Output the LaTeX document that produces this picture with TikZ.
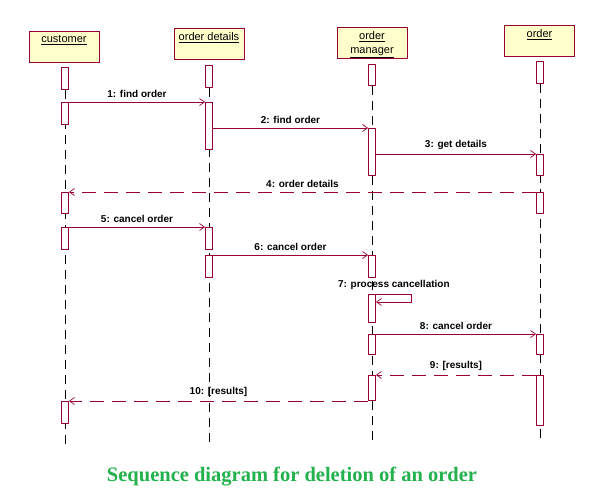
\documentclass[tikz,border=0pt]{standalone}
\usepackage{fontspec}
\setmainfont{Liberation Sans}
\newfontfamily\capfont{Liberation Serif}
\usetikzlibrary{arrows.meta}
\pgfdeclarelayer{bg}
\pgfsetlayers{bg,main}
\definecolor{umlred}{RGB}{153,0,51}
\definecolor{headfill}{RGB}{255,255,204}
\definecolor{capgreen}{RGB}{34,177,76}
\begin{document}
\begin{tikzpicture}[x=1pt,y=-1pt,
 head/.style={draw=umlred, fill=headfill, line width=0.8pt, minimum width=70pt, minimum height=31pt, inner sep=0pt},
 headtxt/.style={font=\fontsize{11}{13.5}\selectfont, align=center, inner sep=0pt, below=5pt},
 act/.style={draw=umlred, fill=white, line width=0.8pt, minimum width=7pt, inner sep=0pt, anchor=north},
 life/.style={draw=black, line width=0.7pt, dash pattern=on 9pt off 6pt},
 msg/.style={draw=umlred, line width=0.7pt, -{Straight Barb[length=5pt,width=7pt]}},
 ret/.style={msg, dash pattern=on 14pt off 8pt},
 lbl/.style={font=\fontsize{10}{12}\selectfont\bfseries, inner sep=0pt, above=4pt}
]
\useasboundingbox (0,0) rectangle (607,500);
% headers
\node[head] (hc) at (64,46.5) {};
\node[headtxt] (tc) at (hc.north) {\underline{customer}};
\node[head] (hod) at (209,43.5) {};
\node[headtxt] (tod) at (hod.north) {\underline{order details}};
\node[head] (hom) at (372,42.5) {};
\node[headtxt] (tom) at (hom.north) {\underline{order}\\\underline{manager}};
\node[head] (ho) at (539.5,40.5) {};
\node[headtxt] (to) at (ho.north) {\underline{order}};
% activations
\node[act, minimum height=22pt] (c1) at (65,67) {};
\node[act, minimum height=22pt] (c2) at (65,102) {};
\node[act, minimum height=21pt] (c3) at (65,192) {};
\node[act, minimum height=22pt] (c4) at (65,227) {};
\node[act, minimum height=22pt] (c5) at (65,401) {};
\node[act, minimum height=22pt] (od1) at (209,65) {};
\node[act, minimum height=47pt] (od2) at (209,102) {};
\node[act, minimum height=22pt] (od3) at (209,227) {};
\node[act, minimum height=22pt] (od4) at (209,255) {};
\node[act, minimum height=21pt] (om1) at (372,64) {};
\node[act, minimum height=47pt] (om2) at (372,128) {};
\node[act, minimum height=22pt] (om3) at (372,255) {};
\node[act, minimum height=28pt] (om4) at (372,294) {};
\node[act, minimum height=20pt] (om5) at (372,334) {};
\node[act, minimum height=25pt] (om6) at (372,375) {};
\node[act, minimum height=22pt] (o1) at (540,61) {};
\node[act, minimum height=21pt] (o2) at (540,154) {};
\node[act, minimum height=21pt] (o3) at (540,192) {};
\node[act, minimum height=20pt] (o4) at (540,334) {};
\node[act, minimum height=50pt] (o5) at (540,375) {};
% lifelines
\coordinate (ce) at (65,447);
\coordinate (ode) at (209,447);
\coordinate (ome) at (372,442);
\coordinate (oe) at (540,440);
\begin{pgfonlayer}{bg}
\draw[life] (c1.south) -- (ce);
\draw[life] (od1.south) -- (ode);
\draw[life] (om1.south) -- (ome);
\draw[life] (o1.south) -- (oe);
\end{pgfonlayer}
% messages
\draw[msg] (c2.north east) -- node[lbl] {1: find order} (od2.north west);
\draw[msg] (od2.east |- om2.north) -- node[lbl] {2: find order} (om2.north west);
\draw[msg] (om2.east |- o2.north) -- node[lbl] {3: get details} (o2.north west);
\draw[ret] (o3.north west) -- node[lbl] {4: order details} (c3.north east);
\draw[msg] (c4.north east) -- node[lbl] {5: cancel order} (od3.north west);
\draw[msg] (od4.north east) -- node[lbl] {6: cancel order} (om3.north west);
\draw[msg] (om4.north east) -- ++(35,0) -- ++(0,8) -- ([yshift=-8pt]om4.north east);
\node[lbl] (l7) at ([xshift=18pt]om4.north east) {7: process cancellation};
\draw[msg] (om5.north east) -- node[lbl] {8: cancel order} (o4.north west);
\draw[ret] (o5.north west) -- node[lbl] {9: [results]} (om6.north east);
\draw[ret] (om6.south west |- c5.north) -- node[lbl] {10: [results]} (c5.north east);
% caption
\node[font=\capfont\bfseries\fontsize{20.5}{24}\selectfont, text=capgreen, inner sep=0pt] (cap) at (292,477) {Sequence diagram for deletion of an order};
\end{tikzpicture}
\end{document}
